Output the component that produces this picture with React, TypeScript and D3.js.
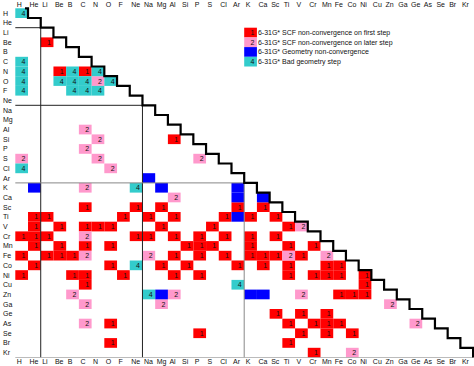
import * as d3 from "d3";

const elements = ["H", "He", "Li", "Be", "B", "C", "N", "O", "F", "Ne", "Na", "Mg", "Al", "Si", "P", "S", "Cl", "Ar",
  "K", "Ca", "Sc", "Ti", "V", "Cr", "Mn", "Fe", "Co", "Ni", "Cu", "Zn", "Ga", "Ge", "As", "Se", "Br", "Kr"];

// pairs are [row element, column element]
const firstStep = [
  ["Be", "Li"], ["N", "Be"], ["N", "C"], ["Si", "Al"],
  ["Sc", "C"], ["Sc", "Ne"], ["Sc", "Mg"], ["Sc", "Ar"], ["Sc", "Ca"],
  ["Ti", "He"], ["Ti", "Li"], ["Ti", "F"], ["Ti", "Na"], ["Ti", "Al"], ["Ti", "Cl"], ["Ti", "K"], ["Ti", "Sc"],
  ["V", "He"], ["V", "Be"], ["V", "C"], ["V", "N"], ["V", "O"], ["V", "Mg"], ["V", "S"], ["V", "Ti"],
  ["Cr", "H"], ["Cr", "He"], ["Cr", "Li"], ["Cr", "Ne"], ["Cr", "Na"], ["Cr", "Al"], ["Cr", "P"], ["Cr", "Cl"], ["Cr", "K"], ["Cr", "Sc"],
  ["Mn", "He"], ["Mn", "Be"], ["Mn", "C"], ["Mn", "O"], ["Mn", "Si"], ["Mn", "P"], ["Mn", "S"], ["Mn", "K"], ["Mn", "Ti"], ["Mn", "Cr"],
  ["Fe", "H"], ["Fe", "Li"], ["Fe", "Be"], ["Fe", "B"], ["Fe", "Al"], ["Fe", "P"], ["Fe", "Cl"], ["Fe", "K"], ["Fe", "Ca"], ["Fe", "Sc"], ["Fe", "V"],
  ["Co", "He"], ["Co", "O"], ["Co", "Mg"], ["Co", "Si"], ["Co", "Ar"], ["Co", "Ca"], ["Co", "Ti"], ["Co", "Mn"], ["Co", "Fe"],
  ["Ni", "H"], ["Ni", "B"], ["Ni", "C"], ["Ni", "F"], ["Ni", "Al"], ["Ni", "P"], ["Ni", "Ti"], ["Ni", "Cr"], ["Ni", "Mn"], ["Ni", "Fe"], ["Ni", "Ni"],
  ["Cu", "C"], ["Cu", "Ni"],
  ["Zn", "Fe"], ["Zn", "Co"], ["Zn", "Ni"],
  ["Ge", "Sc"], ["Ge", "V"], ["Ge", "Mn"],
  ["As", "O"], ["As", "Ti"], ["As", "Cr"], ["As", "Mn"], ["As", "Fe"],
  ["Se", "P"], ["Se", "V"], ["Se", "Mn"], ["Se", "Co"],
  ["Br", "O"], ["Br", "Ti"],
  ["Kr", "Cr"],
];

const laterStep = [
  ["O", "N"], ["Al", "C"], ["Si", "N"], ["P", "C"], ["S", "H"], ["S", "N"], ["S", "P"], ["Cl", "O"],
  ["K", "C"], ["Ca", "Al"], ["V", "V"], ["Cr", "C"], ["Fe", "C"], ["Fe", "Na"], ["Fe", "Ti"], ["Fe", "Mn"],
  ["Zn", "B"], ["Zn", "Al"], ["Zn", "V"], ["Ga", "C"], ["Ga", "Mg"], ["Ga", "Zn"], ["As", "C"], ["As", "Ge"], ["Kr", "Co"],
];

const geometry = [
  ["Ar", "Na"], ["K", "He"], ["K", "Mg"], ["K", "Ar"], ["Ca", "Ar"], ["Ca", "Ca"], ["Ti", "Ar"],
  ["Zn", "Mg"], ["Zn", "K"], ["Zn", "Ca"],
];

const badStep = [
  ["H", "H"], ["C", "H"], ["N", "H"], ["N", "B"], ["N", "N"], ["O", "H"], ["O", "Be"], ["O", "B"], ["O", "C"], ["O", "O"],
  ["F", "H"], ["F", "B"], ["F", "C"], ["F", "N"], ["Cl", "H"], ["K", "Ne"], ["Co", "Ne"], ["Cu", "Ar"], ["Zn", "Na"],
];

const legendLabels = [
  "6-31G* SCF non-convergence on first step",
  "6-31G* SCF non-convergence on later step",
  "6-31G* Geometry non-convergence",
  "6-31G* Bad geometry step",
];
const legendMarks = ["1", "2", "", "4"];
const colors = ["#ff0000", "#ff99cc", "#0000ff", "#33cccc"];

// period boundaries
const separators = ["Li", "Na", "K"];

export default function App() {
  const width = 474;
  const height = 366;
  const font = "'Liberation Sans', Arial, sans-serif";

  const x = d3.scaleBand().domain(elements).range([15.3, 473.1]);
  const y = d3.scaleBand().domain(elements).range([8.3, 357.5]);
  const bw = x.bandwidth();
  const bh = y.bandwidth();

  const groups = [firstStep, laterStep, geometry, badStep];

  // staircase along the diagonal
  const pts: [number, number][] = [[25, y("H")!]];
  elements.forEach((e) => {
    pts.push([x(e)! + bw, y(e)!]);
    pts.push([x(e)! + bw, y(e)! + bh]);
  });
  const stair = d3.line()(pts);

  return (
    <svg width={width} height={height} style={{ position: "absolute", left: 0, top: 0, background: "#fff" }} fontFamily={font}>
      {groups.map((g, k) => (
        <g key={k}>
          {g.map(([r, c], i) => (
            <g key={i}>
              <rect x={x(c)} y={y(r)} width={bw} height={bh} fill={colors[k]} />
              <text x={x(c)! + bw - 2.5} y={y(r)! + bh / 2 + 2.5} fontSize={7} textAnchor="end" fill="#111">{legendMarks[k]}</text>
            </g>
          ))}
        </g>
      ))}

      {separators.map((s, i) => (
        <g key={s} stroke={i === 2 ? "#888" : "#222"} strokeWidth={1}>
          <line x1={x("H")} x2={x(s)} y1={y(s)} y2={y(s)} />
          <line x1={x(s)} x2={x(s)} y1={y(s)} y2={y("Kr")! + bh} />
        </g>
      ))}
      <line x1={x("H")} x2={x("Kr")! + bw} y1={y("Kr")! + bh} y2={y("Kr")! + bh} stroke="#aaa" strokeWidth={0.8} />

      <path d={stair!} fill="none" stroke="#000" strokeWidth={2.2} strokeLinejoin="miter" />

      {elements.map((e) => (
        <g key={e} fontSize={7} fill="#111">
          <text x={3} y={y(e)! + bh / 2 + 2.5}>{e}</text>
          <text x={x(e)! + 1.5} y={6.5}>{e}</text>
          <text x={x(e)! + 1.5} y={364}>{e}</text>
        </g>
      ))}

      {legendLabels.map((l, i) => {
        const ly = y(elements[2 + i])!;
        const lx = x("K")!;
        return (
          <g key={l}>
            <rect x={lx} y={ly} width={bw} height={bh} fill={colors[i]} />
            <text x={lx + bw - 2.5} y={ly + bh / 2 + 2.5} fontSize={7} textAnchor="end" fill="#111">{legendMarks[i]}</text>
            <text x={lx + bw + 1} y={ly + bh / 2 + 2.5} fontSize={7} fill="#111">{l}</text>
          </g>
        );
      })}
    </svg>
  );
}
